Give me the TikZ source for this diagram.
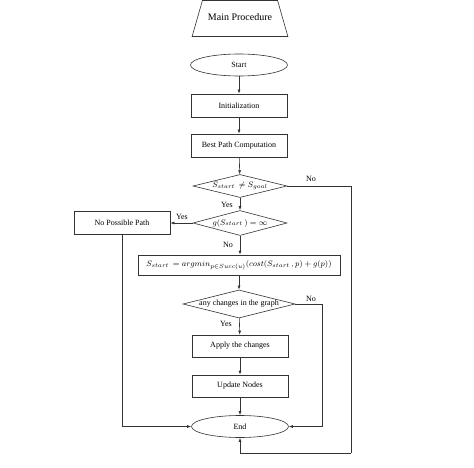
\documentclass[tikz,border=0pt]{standalone}
\usepackage{fontspec}
\setmainfont{Liberation Serif}
\usepackage{amsmath, amssymb}
\usetikzlibrary{shapes.geometric,arrows.meta,positioning}
\tikzset{
  flowline/.style={draw=black!80, line width=0.6pt},
  flowarrow/.style={flowline, -{Latex[length=4pt,width=3pt]}},
  procbox/.style={rectangle, draw=black!80, line width=0.6pt,
                  minimum width=96pt, minimum height=23pt, inner sep=0pt,
                  font=\fontsize{8}{9}\selectfont},
  termnode/.style={ellipse, draw=black!80, line width=0.6pt,
                   minimum width=97pt, minimum height=22pt, inner sep=0pt,
                   font=\fontsize{8}{9}\selectfont},
  decision/.style={diamond, draw=black!80, line width=0.6pt,
                   minimum width=94pt, minimum height=23pt, inner sep=0pt,
                   font=\fontsize{8.5}{9}\selectfont},
  branchlbl/.style={font=\fontsize{8}{9}\selectfont},
}

\begin{document}
\begin{tikzpicture}[x=1pt, y=-1pt]
  \useasboundingbox (0,0) rectangle (474,468);

  % header
  \node[trapezium, trapezium left angle=74, trapezium right angle=74,
        draw=black!80, line width=0.6pt, text height=7pt, text depth=2pt,
        inner xsep=5.5pt, inner ysep=13.5pt,
        font=\fontsize{10}{12}\selectfont] (mainproc) at (240,18.5) {Main Procedure};

  % main column
  \node[termnode] (start) at (239,65) {Start};
  \node[procbox] (init) at (239,105.5) {Initialization};
  \node[procbox] (bestpath) at (239,145.5) {Best Path Computation};
  \node[decision] (notgoal) at (240,186) {\makebox[0pt]{$S_{start}\,\neq S_{goal}$}};
  \node[decision, minimum height=25pt] (inftest) at (240,223) {\makebox[0pt]{$g(S_{start}\,)=\infty$}};
  \node[procbox] (nopath) at (122,223) {No Possible Path};
  \node[procbox, minimum width=202pt, minimum height=20pt,
        font=\fontsize{8.5}{9}\selectfont] (nextstart) at (239,265)
    {$S_{start}\,=argmin_{p\in Succ(u)}(cost(S_{start}\,,p)+g(p))$};
  \node[decision, minimum width=112pt, minimum height=28pt,
        font=\fontsize{8}{9}\selectfont] (changes) at (239,304)
    {\makebox[0pt]{any changes in the graph}};
  \node[procbox, minimum height=22pt] (apply) at (240,346) {Apply the changes};
  \node[procbox, minimum height=22pt] (update) at (240,386) {Update Nodes};
  \node[termnode] (finish) at (240,426.5) {End};

  % turning points
  \coordinate (goalturn) at (351,453);
  \coordinate (changeturn) at (322,426.5);

  % straight flow
  \draw[flowarrow] (start) -- (init);
  \draw[flowarrow] (init) -- (bestpath);
  \draw[flowarrow] (bestpath) -- (notgoal);
  \draw[flowarrow] (notgoal) -- (inftest);
  \draw[flowarrow] (inftest) -- (nopath);
  \draw[flowarrow] (inftest.south) -- (inftest.south |- nextstart.north);
  \draw[flowarrow] (changes.north |- nextstart.south) -- (changes);
  \draw[flowarrow] (changes) -- (apply);
  \draw[flowarrow] (apply) -- (update);
  \draw[flowarrow] (update) -- (finish);

  % return lines
  \draw[flowarrow] (nopath.south) |- (finish.west);
  \draw[flowline] (changes.east) -| (changeturn);
  \draw[flowarrow] (changeturn) -- (finish.east);
  \draw[flowline] (notgoal.east) -| (goalturn);
  \draw[flowarrow] (goalturn) -| (finish.south);

  % branch labels
  \node[branchlbl] (lblgoalno) at (311,179) {No};
  \node[branchlbl] (lblgoalyes) at (227,205) {Yes};
  \node[branchlbl] (lblinfyes) at (182,217) {Yes};
  \node[branchlbl] (lblinfno) at (228,245) {No};
  \node[branchlbl] (lblchangeno) at (311,299) {No};
  \node[branchlbl] (lblchangeyes) at (226,324) {Yes};
\end{tikzpicture}
\end{document}
